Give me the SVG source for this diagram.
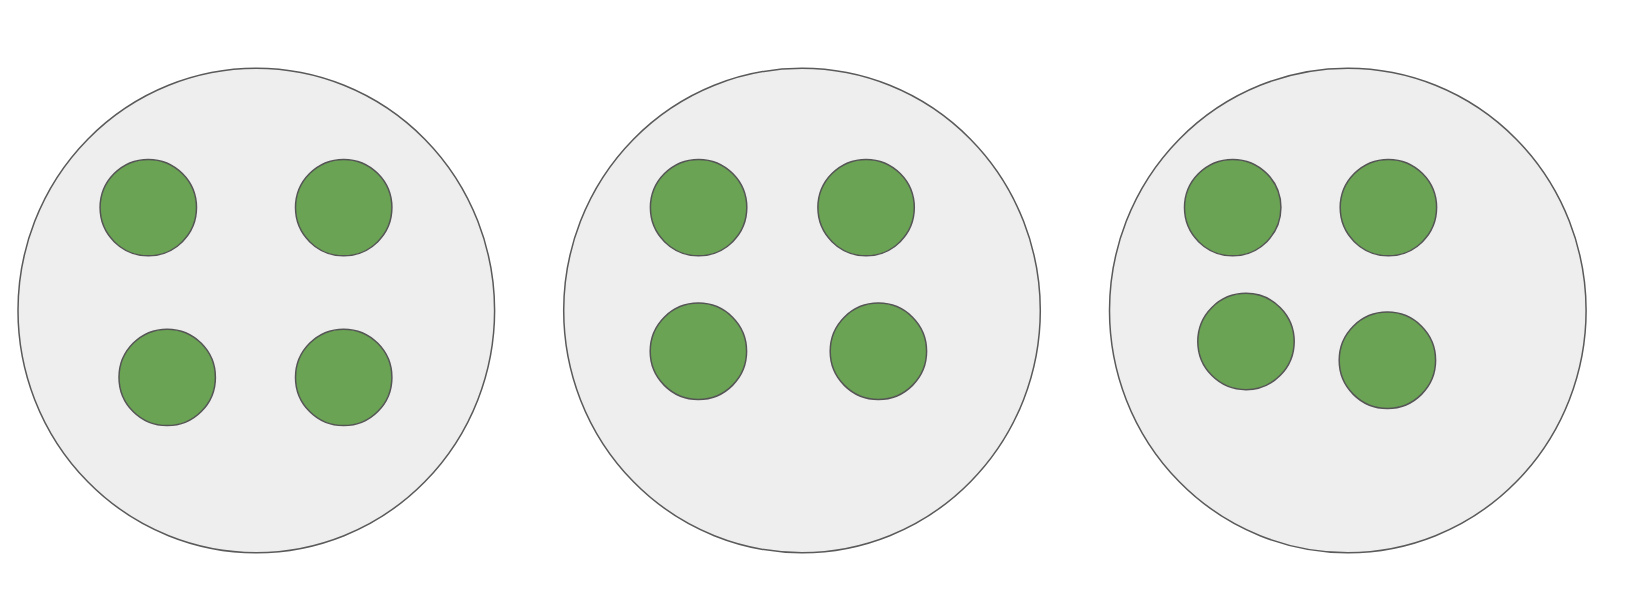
<svg xmlns="http://www.w3.org/2000/svg" width="1636" height="592" viewBox="0 0 1636 592">
<style>
.big{fill:#eeeeee;stroke:#5a5a5a;stroke-width:1.5}
.dot{fill:#6aa354;stroke:#555555;stroke-width:1.5}
</style>
<rect width="1636" height="592" fill="#ffffff"/>
<g id="group1">
<ellipse class="big" cx="256.3" cy="310.5" rx="238.3" ry="242.2"/>
<circle class="dot" cx="148.3" cy="207.6" r="48.2"/>
<circle class="dot" cx="343.7" cy="207.6" r="48.2"/>
<circle class="dot" cx="167.2" cy="377.4" r="48.2"/>
<circle class="dot" cx="343.7" cy="377.4" r="48.2"/>
</g>
<g id="group2">
<ellipse class="big" cx="802" cy="310.5" rx="238.3" ry="242.2"/>
<circle class="dot" cx="698.6" cy="207.6" r="48.2"/>
<circle class="dot" cx="866.1" cy="207.6" r="48.2"/>
<circle class="dot" cx="698.4" cy="351.3" r="48.2"/>
<circle class="dot" cx="878.4" cy="351.3" r="48.2"/>
</g>
<g id="group3">
<ellipse class="big" cx="1347.8" cy="310.5" rx="238.3" ry="242.2"/>
<circle class="dot" cx="1232.7" cy="207.6" r="48.2"/>
<circle class="dot" cx="1388.4" cy="207.6" r="48.2"/>
<circle class="dot" cx="1246" cy="341.5" r="48.2"/>
<circle class="dot" cx="1387.4" cy="360.3" r="48.2"/>
</g>
<g id="connectors"/>
</svg>
